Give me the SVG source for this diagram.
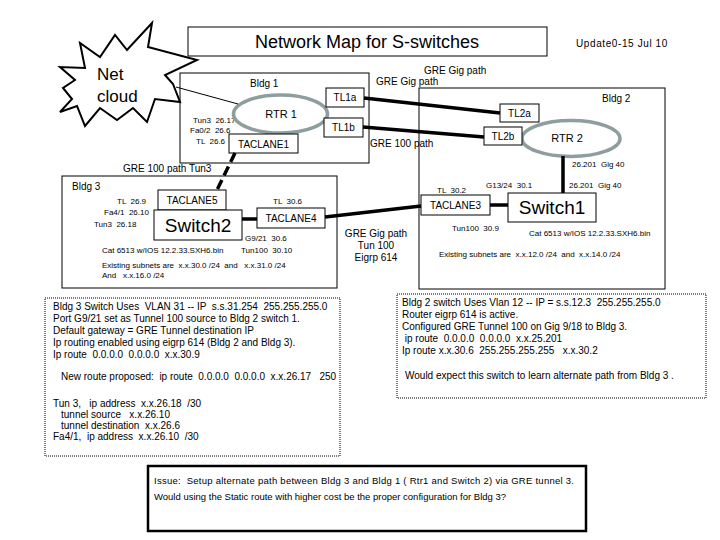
<svg xmlns="http://www.w3.org/2000/svg" width="720" height="540" viewBox="0 0 720 540">
<style>
text{font-family:"Liberation Sans",Arial,sans-serif;fill:#000;white-space:pre}
.box{fill:#fff;stroke:#000;stroke-width:1}
.bldg{fill:none;stroke:#000;stroke-width:1}
.note{fill:#fff;stroke:#000;stroke-width:1;stroke-dasharray:1 1}
.rtr{fill:none;stroke:#8e9e9e;stroke-width:3.5}
.thick{stroke:#000;stroke-width:3.5;fill:none}
.thin{stroke:#000;stroke-width:1;fill:none}
.s8{font-size:8px}
.s10{font-size:10px}
.t{font-size:10px}
</style>
<rect width="720" height="540" fill="#fff"/>

<g id="title">
<rect class="box" x="188" y="27" width="359" height="29"/>
<text x="367" y="48" font-size="18" text-anchor="middle">Network Map for S-switches</text>
</g>
<text x="576" y="47" class="s10" letter-spacing="0.6">Update0-15 Jul 10</text>

<g id="netcloud">
<polygon fill="#fff" stroke="#000" stroke-width="2" points="152,23 148,47 197,60 165,75 173,84 180,102 155,99 147,122 133,108 117,120 100,108 85,126 77,106 60,112 72,99 63,88 75,80 60,67 85,68 80,43 100,57 115,35 127,50"/>
<text x="97" y="80" font-size="17">Net</text>
<text x="97" y="102" font-size="17">cloud</text>
</g>

<g id="bldg1">
<rect class="bldg" x="180" y="73" width="189" height="90"/>
<text x="250" y="87" class="s10">Bldg 1</text>
<text x="193" y="123" class="s8">Tun3  26.17</text>
<text x="190" y="133" class="s8">Fa0/2  26.6</text>
<text x="196" y="144" class="s8">TL  26.6</text>
</g>
<g id="rtr1">
<ellipse class="rtr" cx="280.5" cy="114" rx="47" ry="19"/>
<text x="281" y="118" font-size="11" text-anchor="middle">RTR 1</text>
</g>
<g id="tl1a">
<rect class="box" x="326" y="88" width="38" height="19"/>
<text x="345" y="101" class="s10" text-anchor="middle">TL1a</text>
</g>
<g id="tl1b">
<rect class="box" x="324" y="118" width="39" height="19"/>
<text x="343.5" y="131" class="s10" text-anchor="middle">TL1b</text>
</g>
<g id="taclane1">
<rect class="box" x="229" y="134" width="69" height="19"/>
<text x="263.5" y="148" class="s10" text-anchor="middle">TACLANE1</text>
</g>

<g id="bldg2">
<rect class="bldg" x="419" y="88" width="246" height="201"/>
<text x="602" y="102" class="s10">Bldg 2</text>
<text x="572" y="167" class="s8">26.201  Gig 40</text>
<text x="437" y="193" class="s8">TL  30.2</text>
<text x="486" y="188" class="s8">G13/24  30.1</text>
<text x="569" y="188" class="s8">26.201  Gig 40</text>
<text x="452" y="231" class="s8">Tun100  30.9</text>
<text x="529" y="236" class="s8">Cat 6513 w/IOS 12.2.33.SXH6.bin</text>
<text x="439" y="257" class="s8">Existing subnets are  x.x.12.0 /24  and  x.x.14.0 /24</text>
</g>
<g id="rtr2">
<ellipse class="rtr" cx="571" cy="138.5" rx="49" ry="18"/>
<text x="567" y="142" font-size="11" text-anchor="middle">RTR 2</text>
</g>
<g id="tl2a">
<rect class="box" x="500" y="104" width="39" height="18"/>
<text x="519.5" y="117" class="s10" text-anchor="middle">TL2a</text>
</g>
<g id="tl2b">
<rect class="box" x="484" y="127" width="38" height="18"/>
<text x="503" y="140" class="s10" text-anchor="middle">TL2b</text>
</g>
<g id="taclane3">
<rect class="box" x="421" y="195" width="69" height="20"/>
<text x="455.5" y="209" class="s10" text-anchor="middle">TACLANE3</text>
</g>
<g id="switch1">
<rect class="box" x="508" y="193" width="88" height="29"/>
<text x="552" y="214" font-size="19" text-anchor="middle">Switch1</text>
</g>

<g id="bldg3">
<rect class="bldg" x="62" y="176" width="275" height="112"/>
<text x="72" y="190" class="s10">Bldg 3</text>
<text x="117" y="204" class="s8">TL  26.9</text>
<text x="104" y="215" class="s8">Fa4/1  26.10</text>
<text x="94" y="227" class="s8">Tun3  26.18</text>
<text x="273" y="204" class="s8">TL  30.6</text>
<text x="245" y="241" class="s8">G9/21  30.6</text>
<text x="241" y="253" class="s8">Tun100  30.10</text>
<text x="102" y="253" class="s8">Cat 6513 w/IOS 12.2.33.SXH6.bin</text>
<text x="102" y="268" class="s8">Existing subnets are  x.x.30.0 /24  and   x.x.31.0 /24</text>
<text x="102" y="278" class="s8">And   x.x.16.0 /24</text>
</g>
<g id="taclane5">
<rect class="box" x="158" y="190" width="68" height="20"/>
<text x="192" y="204" class="s10" text-anchor="middle">TACLANE5</text>
</g>
<g id="switch2">
<rect class="box" x="154" y="210" width="88" height="30"/>
<text x="198" y="232" font-size="19" text-anchor="middle">Switch2</text>
</g>
<g id="taclane4">
<rect class="box" x="257" y="208" width="68" height="20"/>
<text x="291" y="222" class="s10" text-anchor="middle">TACLANE4</text>
</g>

<g id="connectors">
<line class="thin" x1="176" y1="87" x2="238" y2="104"/>
<line class="thick" x1="235" y1="153" x2="217" y2="190" stroke-dasharray="10 5"/>
<line class="thick" x1="364" y1="98" x2="500" y2="113"/>
<line class="thick" x1="363" y1="127" x2="484" y2="137"/>
<line class="thick" x1="242" y1="219" x2="257" y2="219"/>
<line class="thick" x1="325" y1="217" x2="421" y2="206"/>
<line class="thick" x1="490" y1="205" x2="508" y2="205"/>
<line class="thick" x1="563" y1="156" x2="563" y2="193"/>
</g>

<g id="path-labels">
<text x="424" y="74" class="s10">GRE Gig path</text>
<text x="376" y="85" class="s10">GRE Gig path</text>
<text x="370" y="147" class="s10">GRE 100 path</text>
<text x="123" y="172" class="s10">GRE 100 path Tun3</text>
<text x="376" y="237" class="s10" text-anchor="middle">GRE Gig path</text>
<text x="376" y="249" class="s10" text-anchor="middle">Tun 100</text>
<text x="376" y="261" class="s10" text-anchor="middle">Eigrp 614</text>
</g>

<g id="note-bldg3">
<rect class="note" x="45" y="298" width="295" height="158"/>
<text class="t" x="53" y="310">Bldg 3 Switch Uses  VLAN 31 -- IP  s.s.31.254  255.255.255.0</text>
<text class="t" x="53" y="322">Port G9/21 set as Tunnel 100 source to Bldg 2 switch 1.</text>
<text class="t" x="53" y="334">Default gateway = GRE Tunnel destination IP</text>
<text class="t" x="53" y="346">Ip routing enabled using eigrp 614 (Bldg 2 and Bldg 3).</text>
<text class="t" x="53" y="358">Ip route  0.0.0.0  0.0.0.0  x.x.30.9</text>
<text class="t" x="61" y="380">New route proposed:  ip route  0.0.0.0  0.0.0.0  x.x.26.17   250</text>
<text class="t" x="53" y="407">Tun 3,   ip address  x.x.26.18  /30</text>
<text class="t" x="61" y="418">tunnel source   x.x.26.10</text>
<text class="t" x="61" y="429">tunnel destination  x.x.26.6</text>
<text class="t" x="53" y="440">Fa4/1,  ip address  x.x.26.10  /30</text>
</g>

<g id="note-bldg2">
<rect class="note" x="397" y="294" width="309" height="104"/>
<text class="t" x="402" y="306">Bldg 2 switch Uses Vlan 12 -- IP = s.s.12.3  255.255.255.0</text>
<text class="t" x="402" y="318">Router eigrp 614 is active.</text>
<text class="t" x="402" y="330">Configured GRE Tunnel 100 on Gig 9/18 to Bldg 3.</text>
<text class="t" x="402" y="342"> ip route  0.0.0.0  0.0.0.0  x.x.25.201</text>
<text class="t" x="402" y="354">Ip route x.x.30.6  255.255.255.255   x.x.30.2</text>
<text class="t" x="405" y="379">Would expect this switch to learn alternate path from Bldg 3 .</text>
</g>

<g id="issue">
<rect fill="#fff" stroke="#000" stroke-width="2.5" x="148" y="466" width="438" height="65"/>
<text x="154" y="484" font-size="9.5" textLength="420" lengthAdjust="spacing">Issue:  Setup alternate path between Bldg 3 and Bldg 1 ( Rtr1 and Switch 2) via GRE tunnel 3.</text>
<text x="154" y="500" font-size="9.5">Would using the Static route with higher cost be the proper configuration for Bldg 3?</text>
</g>
</svg>
